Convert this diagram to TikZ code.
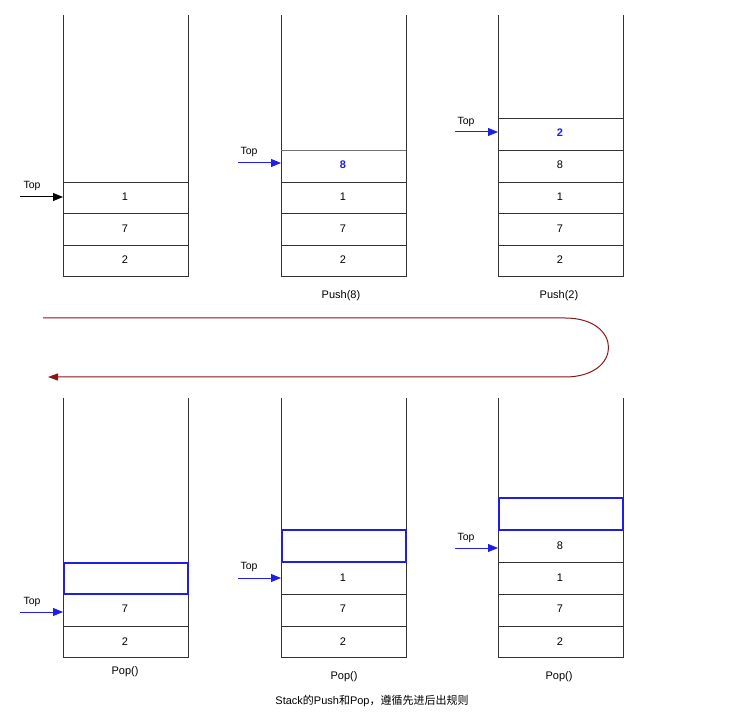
\documentclass[tikz,border=0pt]{standalone}
\usepackage{fontspec}
\setmainfont{Liberation Sans}
\newfontfamily\cjk{Noto Sans CJK SC}
\usetikzlibrary{arrows.meta}
\definecolor{tb}{RGB}{30,30,230}
\definecolor{dr}{RGB}{140,20,20}
\begin{document}
\begin{tikzpicture}[x=1pt,y=-1pt,font=\fontsize{11}{12}\selectfont,
 cell/.style={draw=black!80,line width=0.9pt},
 bcell/.style={draw=tb,line width=1.4pt},
 toplbl/.style={inner sep=0pt,font=\fontsize{10.5}{11}\selectfont},
 parr/.style={-{Triangle[length=10pt,width=8pt]},line width=1pt},
 val/.style={inner sep=0pt}]
\useasboundingbox (0,0) rectangle (732,714);
% stack walls
\foreach \x/\yt/\yb in {63/15/276,281/15/276,498/15/276,63/398/657,281/398/657,498/398/657}{
 \draw[cell] (\x,\yt) -- (\x,\yb) -- (\x+125,\yb) -- (\x+125,\yt);}
% top stack 1
\draw[cell] (63,182) -- (188,182); \draw[cell] (63,213) -- (188,213); \draw[cell] (63,245) -- (188,245);
\node[val] (a1) at (125,197) {1}; \node[val] (a2) at (125,229) {7}; \node[val] (a3) at (125,260) {2};
\coordinate (ta) at (20,197); \coordinate (ha) at (63,197);
\draw[parr,black] (ta) -- (ha); \node[toplbl] (tla) at (32,186) {Top};
% top stack 2
\draw[draw=black!55,line width=0.9pt] (281,150) -- (406,150);
\foreach \y in {182,213,245}{\draw[cell] (281,\y) -- (406,\y);}
\node[val,text=tb,font=\fontsize{11}{12}\selectfont\bfseries] (b0) at (343,165) {8};
\node[val] (b1) at (343,197) {1}; \node[val] (b2) at (343,229) {7}; \node[val] (b3) at (343,260) {2};
\coordinate (tb1) at (238,163); \coordinate (hb) at (281,163);
\draw[parr,tb] (tb1) -- (hb); \node[toplbl] (tlb) at (249,152) {Top};
\node[val] (push8) at (341,296) {Push(8)};
% top stack 3
\foreach \y in {118,150,182,213,245}{\draw[cell] (498,\y) -- (623,\y);}
\node[val,text=tb,font=\fontsize{11}{12}\selectfont\bfseries] (c0) at (560,133) {2};
\node[val] (c1) at (560,165) {8}; \node[val] (c2) at (560,197) {1}; \node[val] (c3) at (560,229) {7}; \node[val] (c4) at (560,260) {2};
\coordinate (tc) at (455,132); \coordinate (hc) at (498,132);
\draw[parr,tb] (tc) -- (hc); \node[toplbl] (tlc) at (466,122) {Top};
\node[val] (push2) at (559,296) {Push(2)};
% curved arrow
\coordinate (cs) at (43,318); \coordinate (ce) at (48,377);
\draw[dr,line width=1pt,-{Triangle[length=10pt,width=7pt]}] (cs) -- (565,318) .. controls (623,318) and (623,377) .. (565,377) -- (ce);
% bottom stack 1
\draw[bcell] (64,563) rectangle (188,594);
\draw[cell] (63,626) -- (188,626);
\node[val] (d1) at (125,609) {7}; \node[val] (d2) at (125,642) {2};
\coordinate (td) at (20,612); \coordinate (hd) at (63,612);
\draw[parr,tb] (td) -- (hd); \node[toplbl] (tld) at (32,602) {Top};
\node[val] (pop1) at (125,672) {Pop()};
% bottom stack 2
\draw[bcell] (282,530) rectangle (406,562);
\draw[cell] (281,594) -- (406,594); \draw[cell] (281,626) -- (406,626);
\node[val] (e1) at (343,578) {1}; \node[val] (e2) at (343,609) {7}; \node[val] (e3) at (343,642) {2};
\coordinate (te) at (238,578); \coordinate (he) at (281,578);
\draw[parr,tb] (te) -- (he); \node[toplbl] (tle) at (249,567) {Top};
\node[val] (pop2) at (344,677) {Pop()};
% bottom stack 3
\draw[bcell] (499,498) rectangle (623,530);
\draw[cell] (498,562) -- (623,562); \draw[cell] (498,594) -- (623,594); \draw[cell] (498,626) -- (623,626);
\node[val] (f0) at (560,546) {8}; \node[val] (f1) at (560,578) {1}; \node[val] (f2) at (560,609) {7}; \node[val] (f3) at (560,642) {2};
\coordinate (tf) at (455,548); \coordinate (hf) at (498,548);
\draw[parr,tb] (tf) -- (hf); \node[toplbl] (tlf) at (466,538) {Top};
\node[val] (pop3) at (559,677) {Pop()};
% caption
\node[val] (cap) at (372,701) {Stack{\cjk 的}Push{\cjk 和}Pop{\cjk ，遵循先进后出规则}};
\end{tikzpicture}
\end{document}
